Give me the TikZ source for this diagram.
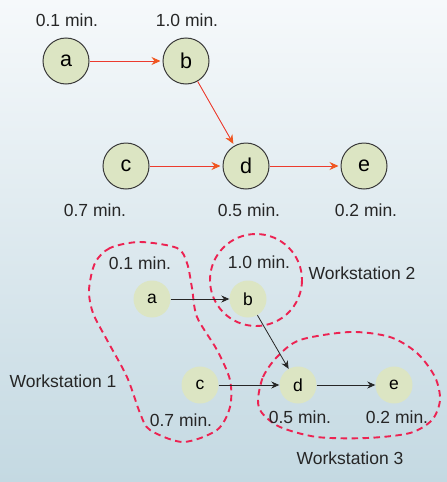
\documentclass[tikz,border=0pt]{standalone}
\usepackage{fontspec}
\setmainfont{Liberation Sans}
\usepackage{tikz}
\usetikzlibrary{arrows.meta}
\usepackage{xcolor}

\definecolor{taskfill}{HTML}{DCE5C3}
\definecolor{taskline}{HTML}{3A3A3A}
\definecolor{flowred}{HTML}{EC3B2E}
\definecolor{tipred}{HTML}{F0561F}
\definecolor{zonered}{HTML}{EC2352}
\definecolor{bgtop}{HTML}{F6F9FB}
\definecolor{bgbottom}{HTML}{C4D9E2}

\tikzset{
    task/.style={circle, fill=taskfill, draw=taskline, line width=1pt,
                 minimum size=46pt, inner sep=0pt,
                 font=\fontsize{21.5}{24}\selectfont},
    stationtask/.style={circle, fill=taskfill, minimum size=37pt, inner sep=0pt,
                 font=\fontsize{17.5}{20}\selectfont},
    tasktime/.style={font=\fontsize{17.5}{20}\selectfont, text=black!85},
    redflow/.style={draw=flowred, line width=0.9pt, shorten >=2pt,
                 -{Stealth[length=9pt,width=8pt,color=tipred]}},
    blackflow/.style={draw=black!85, line width=0.8pt,
                 -{Stealth[length=8pt,width=7pt]}},
    zone/.style={draw=zonered, line width=1.9pt, dash pattern=on 6.5pt off 4.5pt},
}

\begin{document}
\begin{tikzpicture}[x=1pt, y=-1pt]
        \shade[top color=bgtop, bottom color=bgbottom] (0,0) rectangle (447,482);
        \useasboundingbox (0,0) rectangle (447,482);

        % precedence diagram
        \node[task] (a) at (66,61) {a};
        \node[task] (b) at (186,61) {b};
        \node[task] (c) at (126,166) {c};
        \node[task] (d) at (246,166) {d};
        \node[task] (e) at (364,166) {e};
        \draw[redflow] (a) -- (b);
        \draw[redflow] (b) -- (d);
        \draw[redflow] (c) -- (d);
        \draw[redflow] (d) -- (e);
        \foreach \x/\y/\t [count=\i] in {67/20/0.1, 187/20/1.0, 95/210/0.7,
                                         249/210/0.5, 366/210/0.2} {
            \node[tasktime] (time\i) at (\x,\y) {\t\ min.};
        }

        % grouped into workstations
        \draw[zone] plot[smooth cycle] coordinates {
            (140,242) (110,248) (95,263) (89,290) (93,313) (107,340)
            (127,377) (140,413) (150,430) (183,442) (217,430) (230,407)
            (230,380) (217,350) (197,317) (192,288) (187,263) (177,248)};
        \draw[zone] (256,280) circle (46);
        \draw[zone] plot[smooth cycle] coordinates {
            (258,400) (263,377) (277,357) (300,340) (350,332) (390,337)
            (417,353) (435,377) (440,400) (432,420) (410,433) (367,438)
            (317,437) (280,427) (262,413)};

        \node[stationtask] (sa) at (152,299) {a};
        \node[stationtask] (sb) at (248,299) {b};
        \node[stationtask] (sc) at (200,385) {c};
        \node[stationtask] (sd) at (298,385) {d};
        \node[stationtask] (se) at (394,385) {e};
        \draw[blackflow] (sa) -- (sb);
        \draw[blackflow] (sb) -- (sd);
        \draw[blackflow] (sc) -- (sd);
        \draw[blackflow] (sd) -- (se);
        \foreach \x/\y/\t [count=\i] in {140/263/0.1, 259/262/1.0, 181/420/0.7,
                                         300/417/0.5, 397/417/0.2} {
            \node[tasktime] (stime\i) at (\x,\y) {\t\ min.};
        }
        \node[tasktime] (ws1) at (63,381) {Workstation 1};
        \node[tasktime] (ws2) at (362,273) {Workstation 2};
        \node[tasktime] (ws3) at (350,458) {Workstation 3};
\end{tikzpicture}
\end{document}
